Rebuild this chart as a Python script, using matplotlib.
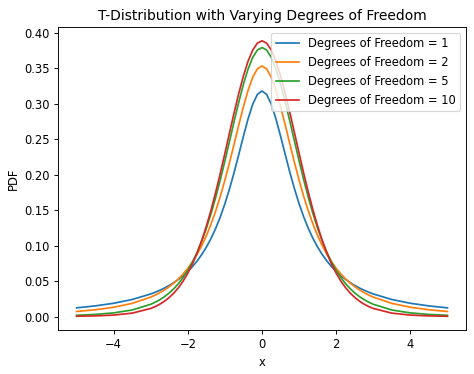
import matplotlib
matplotlib.use("Agg")
import matplotlib.pyplot as plt
import numpy as np

# half-grid (x >= 0); curves are symmetric about 0
x_half = [0, 0.125, 0.25, 0.375, 0.5, 0.625, 0.75, 0.875, 1, 1.125, 1.25, 1.375, 1.5, 1.625, 1.75,
          1.875, 2, 2.125, 2.25, 2.375, 2.5, 2.625, 2.75, 2.875, 3, 3.5, 4, 4.5, 5]
pdf_df1 = [0.31831, 0.31341, 0.29959, 0.27906, 0.25465, 0.22890, 0.20372, 0.18028, 0.15915, 0.14050,
           0.12422, 0.11012, 0.09794, 0.08743, 0.07835, 0.07049, 0.06366, 0.05771, 0.05251, 0.04793,
           0.04390, 0.04034, 0.03718, 0.03435, 0.03183, 0.02402, 0.01872, 0.01498, 0.01224]
pdf_df2 = [0.35355, 0.34945, 0.33761, 0.31929, 0.29630, 0.27054, 0.24379, 0.21743, 0.19245, 0.16945,
           0.14872, 0.13031, 0.11413, 0.10003, 0.08779, 0.07720, 0.06804, 0.06013, 0.05328, 0.04735,
           0.04220, 0.03772, 0.03382, 0.03040, 0.02741, 0.01859, 0.01309, 0.00953, 0.00713]
pdf_df5 = [0.37961, 0.37607, 0.36572, 0.34930, 0.32792, 0.30292, 0.27570, 0.24757, 0.21968, 0.19291,
           0.16789, 0.14503, 0.12452, 0.10638, 0.09054, 0.07684, 0.06509, 0.05507, 0.04657, 0.03939,
           0.03333, 0.02822, 0.02393, 0.02033, 0.01729, 0.00924, 0.00512, 0.00295, 0.00176]
pdf_df10 = [0.38911, 0.38578, 0.37600, 0.36034, 0.33970, 0.31517, 0.28798, 0.25933, 0.23036, 0.20203,
            0.17510, 0.15012, 0.12745, 0.10724, 0.08953, 0.07421, 0.06115, 0.05012, 0.04089, 0.03324,
            0.02694, 0.02178, 0.01757, 0.01416, 0.01140, 0.00478, 0.00203, 0.00088, 0.00040]
dfs = [1, 2, 5, 10]
series = [pdf_df1, pdf_df2, pdf_df5, pdf_df10]

def mirror(xs, ys):
    xs = np.array(xs); ys = np.array(ys)
    return np.concatenate([-xs[:0:-1], xs]), np.concatenate([ys[:0:-1], ys])

DPI = 83
fig, ax = plt.subplots(figsize=(474 / DPI, 374 / DPI), dpi=DPI)
for d, ys in zip(dfs, series):
    xx, yy = mirror(x_half, ys)
    ax.plot(xx, yy, label=f"Degrees of Freedom = {d}")
ax.set_title("T-Distribution with Varying Degrees of Freedom")
ax.set_xlabel("x")
ax.set_ylabel("PDF")
ax.legend(loc="upper right")
fig.subplots_adjust(left=0.1224, right=0.9831, top=0.9278, bottom=0.1176)
fig.savefig("out.png", dpi=DPI)
